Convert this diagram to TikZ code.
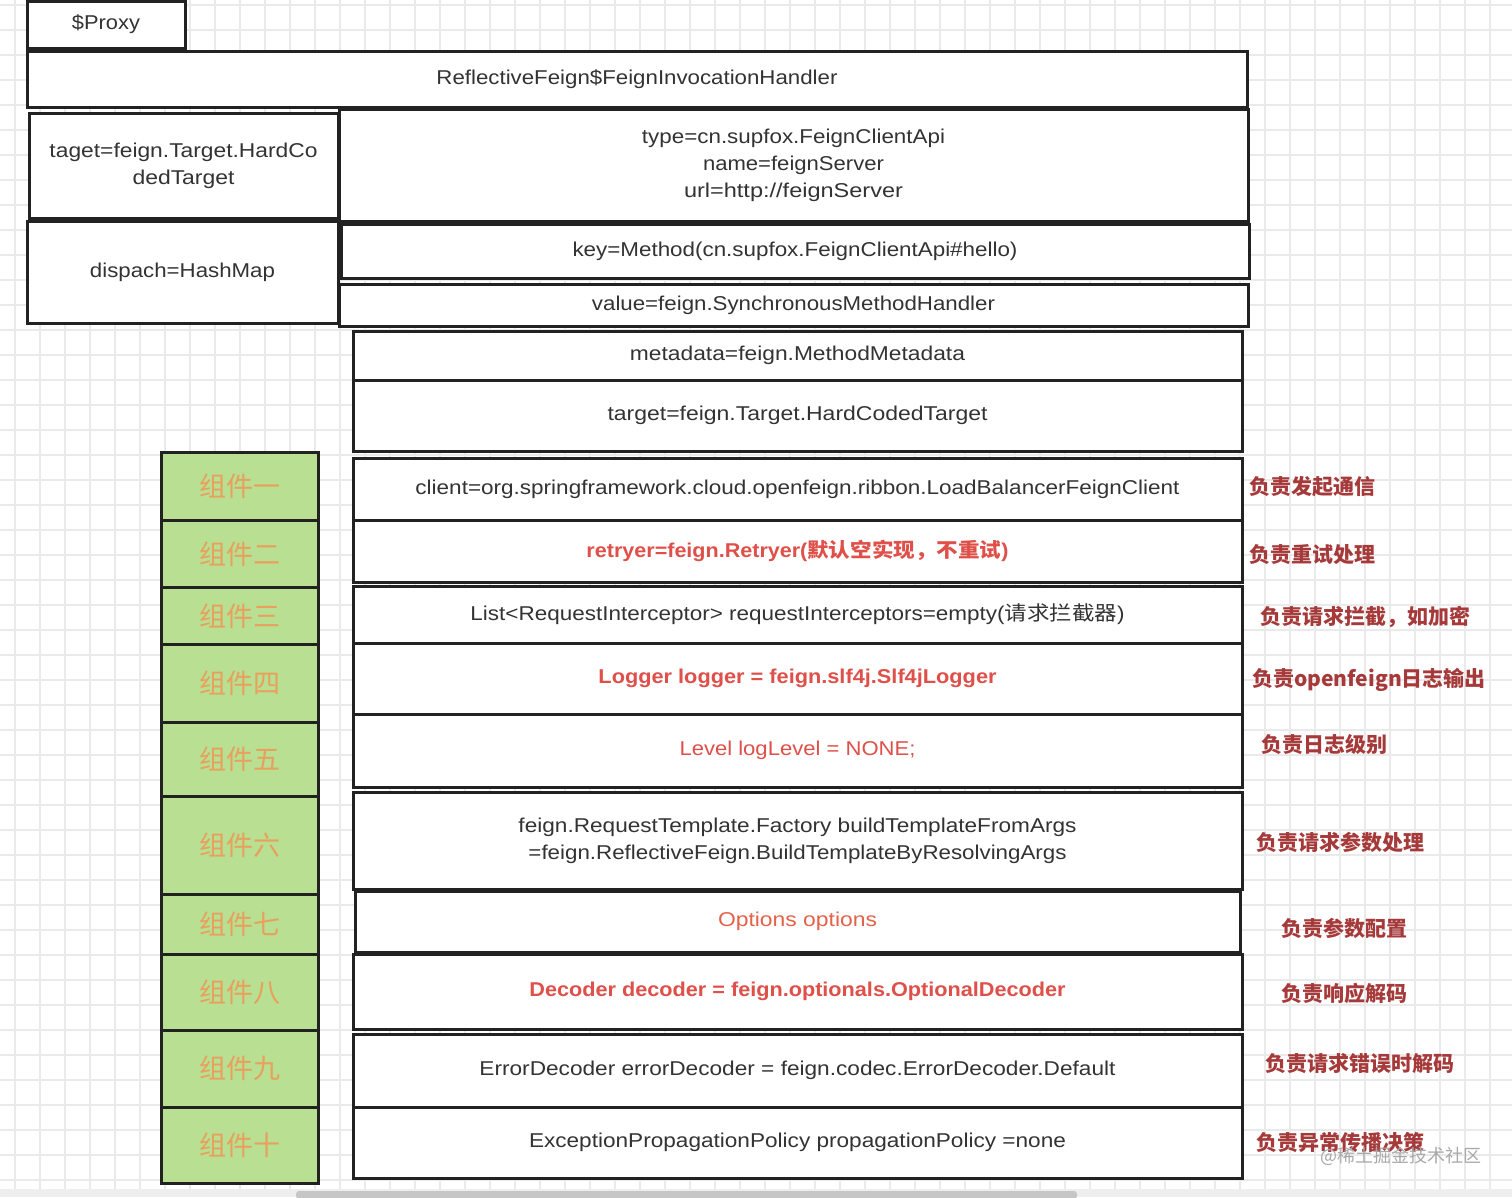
\documentclass[tikz,border=0pt]{standalone}
\usepackage{fontspec}
\setmainfont{Liberation Sans}
\newfontfamily\cjk{Noto Sans CJK SC}
\usepackage{graphicx}
\definecolor{boxc}{HTML}{222222}
\definecolor{txtc}{HTML}{333333}
\definecolor{redt}{HTML}{DE5049}
\definecolor{orat}{HTML}{E4624A}
\definecolor{labc}{HTML}{A63A3A}
\definecolor{grnf}{HTML}{B8DF92}
\definecolor{grnt}{HTML}{E9A05C}
\definecolor{gridc}{HTML}{EAEAEA}
\definecolor{barc}{HTML}{EEEEEE}
\definecolor{scrollc}{HTML}{C6C6C6}
\definecolor{wmc}{HTML}{A8A8A8}
\newcommand\fw[2]{\raisebox{-4pt}{\resizebox{#1pt}{\height}{#2}}}
\newcommand\bx[7][]{\node[box,#1,minimum width={#5-#3},minimum height={#6-#4}] (#2) at ({(#3+#5)/2},{(#4+#6)/2}) {#7};}
\newcommand\gx[4]{\node[grn,minimum width={318-161.5},minimum height={#3-#2}] (#1) at ({(161.5+318)/2},{(#2+#3)/2}) {#4};}
\begin{document}
\begin{tikzpicture}[x=1pt,y=-1pt,
  box/.style={draw=boxc,line width=3pt,fill=white,inner sep=0pt,align=center,text=txtc,font=\fontsize{20}{27}\selectfont},
  grn/.style={box,fill=grnf,text=grnt,font=\cjk\fontsize{27}{30}\selectfont},
  lab/.style={anchor=west,inner sep=0pt,text=labc,font=\cjk\bfseries\fontsize{21}{24}\selectfont},
  gridline/.style={draw=gridc,line width=1.2pt}]
\useasboundingbox (0,0) rectangle (1512,1197);
\fill[white] (0,0) rectangle (1512,1197);
\foreach \x in {15,40,...,1512} \draw[gridline] (\x,0) -- (\x,1197);
\foreach \y in {5,30,...,1197} \draw[gridline] (0,\y) -- (1512,\y);
% bottom bar
\fill[barc] (0,1189) rectangle (1512,1197);
\fill[scrollc,rounded corners=3pt] (296,1191) rectangle (1077,1199);
% top boxes
\bx{proxy}{27}{1}{185}{48}{\fw{68}{\$Proxy}}
\bx{handler}{27}{51.5}{1247}{107.5}{\fw{401}{ReflectiveFeign\$FeignInvocationHandler}}
\bx{tget}{29}{113}{338}{218.5}{\fw{268}{taget=feign.Target.HardCo}\\\fw{102}{dedTarget}}
\bx{type}{339}{109}{1248}{221}{\fw{303}{type=cn.supfox.FeignClientApi}\\\fw{181}{name=feignServer}\\\fw{219}{url=http://feignServer}}
\bx{dispach}{27}{221.5}{338}{323}{\fw{185}{dispach=HashMap}}
\bx{key}{341}{224.5}{1249}{278}{\fw{445}{key=Method(cn.supfox.FeignClientApi\#hello)}}
\bx{value}{339}{284}{1248}{326.5}{\fw{403}{value=feign.SynchronousMethodHandler}}
\bx{meta}{353}{331.5}{1242}{380}{\fw{335}{metadata=feign.MethodMetadata}}
\bx{tgt}{353}{380}{1242}{451}{\fw{380}{target=feign.Target.HardCodedTarget}}
% component boxes
\bx{client}{353}{458}{1242}{520}{\fw{764}{client=org.springframework.cloud.openfeign.ribbon.LoadBalancerFeignClient}}
\bx[text=redt]{retry}{353}{520}{1242}{582.5}{\fw{422}{\bfseries retryer=feign.Retryer({\cjk\bfseries 默认空实现，不重试})}}
\bx{inter}{353}{586}{1242}{643}{\fw{654}{List<RequestInterceptor> requestInterceptors=empty({\cjk 请求拦截器})}}
\bx[text=redt]{logger}{353}{643}{1242}{714}{\fw{398}{\bfseries Logger logger = feign.slf4j.Slf4jLogger}}
\bx[text=redt]{level}{353}{714}{1242}{787}{\fw{236}{Level logLevel = NONE;}}
\bx{tmpl}{353}{792}{1242}{889.5}{\fw{558}{feign.RequestTemplate.Factory buildTemplateFromArgs}\\\fw{538}{=feign.ReflectiveFeign.BuildTemplateByResolvingArgs}}
\bx[text=orat]{opts}{355}{891}{1240}{952.5}{\fw{159}{Options options}}
\bx[text=redt]{dec}{353}{954.5}{1242}{1029}{\fw{536}{\bfseries Decoder decoder = feign.optionals.OptionalDecoder}}
\bx{errdec}{353}{1034.5}{1242}{1107}{\fw{636}{ErrorDecoder errorDecoder = feign.codec.ErrorDecoder.Default}}
\bx{prop}{353}{1107}{1242}{1178}{\fw{537}{ExceptionPropagationPolicy propagationPolicy =none}}
% green
\gx{g1}{452}{520.5}{组件一}
\gx{g2}{520.5}{587.5}{组件二}
\gx{g3}{587.5}{644.5}{组件三}
\gx{g4}{644.5}{722}{组件四}
\gx{g5}{722}{796.5}{组件五}
\gx{g6}{796.5}{894.5}{组件六}
\gx{g7}{894.5}{954.5}{组件七}
\gx{g8}{954.5}{1030}{组件八}
\gx{g9}{1030}{1107}{组件九}
\gx{g10}{1107}{1183}{组件十}
% labels
\node[lab] (l1) at (1249,487) {负责发起通信};
\node[lab] (l2) at (1249,555) {负责重试处理};
\node[lab] (l3) at (1260,617) {负责请求拦截，如加密};
\node[lab] (l4) at (1252,680) {负责openfeign日志输出};
\node[lab] (l5) at (1261,744) {负责日志级别};
\node[lab] (l6) at (1256,842) {负责请求参数处理};
\node[lab] (l7) at (1281,928) {负责参数配置};
\node[lab] (l8) at (1281,993) {负责响应解码};
\node[lab] (l9) at (1265,1064) {负责请求错误时解码};
\node[lab] (l10) at (1256,1142) {负责异常传播决策};
\node[anchor=west,inner sep=0pt,text=wmc,font=\cjk\fontsize{18}{20}\selectfont] (wm) at (1320,1156) {@稀土掘金技术社区};
\end{tikzpicture}
\end{document}
